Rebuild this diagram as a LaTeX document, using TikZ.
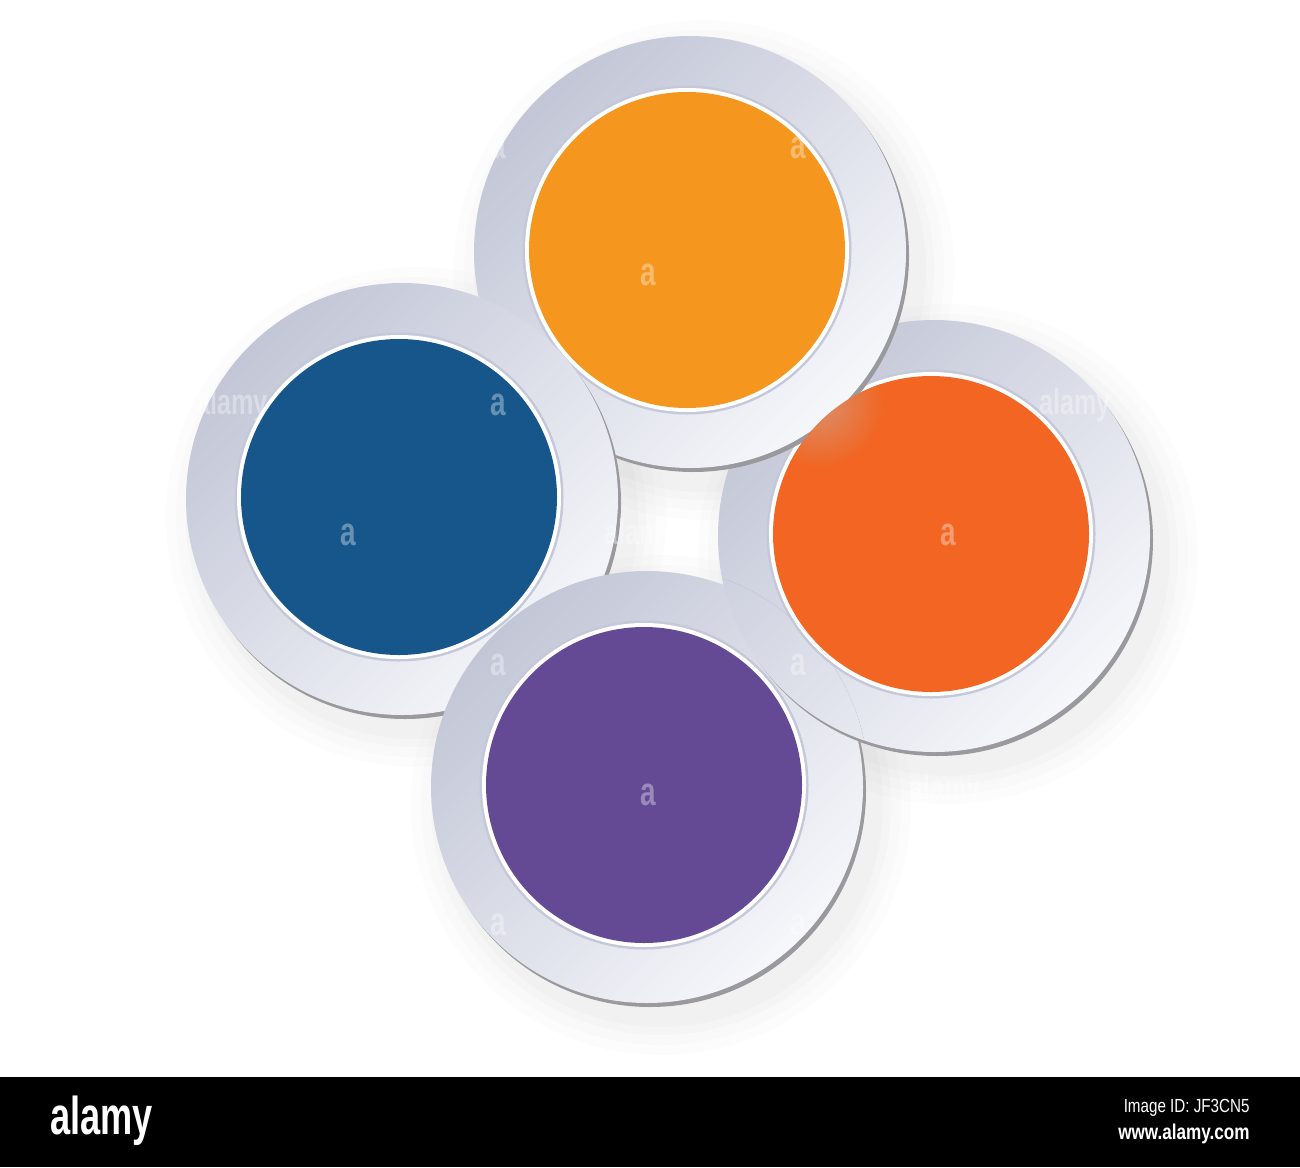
\documentclass[tikz,border=0pt]{standalone}
\usepackage{fontspec}
\setmainfont{Liberation Sans}
\usepackage{graphicx}
\definecolor{cOrange}{HTML}{F5961E}
\definecolor{cBlue}{HTML}{17568B}
\definecolor{cRed}{HTML}{F26522}
\definecolor{cPurple}{HTML}{644A94}
\definecolor{ringDark}{HTML}{C2C6D6}
\definecolor{ringLight}{HTML}{F6F7FB}
\definecolor{edgeGrey}{HTML}{9A9A9E}
\definecolor{innerEdge}{HTML}{C4C8D9}
\definecolor{tint}{HTML}{D9906E}
\tikzset{
  ringshade/.style={top color=ringDark, bottom color=ringLight, shading angle=45},
  wmark/.style={text=white, opacity=0.35, inner sep=0pt, font=\bfseries\fontsize{20}{20}\selectfont},
  wword/.style={text=white, opacity=0.35, inner sep=0pt, font=\bfseries\fontsize{18}{18}\selectfont},
}
\newcommand{\plateshadow}[2]{%
  \foreach \r/\o in {250/0.012,240/0.015,230/0.02,222/0.025}{\fill[black!70,opacity=\o] ({#1+14},{-#2-18}) circle (\r);}%
}
\newcommand{\platebody}[4]{%
  \fill[edgeGrey] ({#2+3},{-#3-4}) circle (216);
  \shade[ringshade] (#2,-#3) circle (216);
  \fill[innerEdge] ({#2-3},{-#3+2}) circle (164.5);
  \fill[white] ({#2-3},{-#3+2}) circle (162);
  \node[circle, fill=#4, minimum size=158pt, inner sep=0pt] (#1) at ({#2-3},{-#3+2}) {};
}
\begin{document}
\begin{tikzpicture}[x=0.5pt,y=0.5pt]
\useasboundingbox (0,0) rectangle (1300,-1167);
\fill[white] (0,0) rectangle (1300,-1167);
% soft shadows on the background
\plateshadow{934}{536}
\plateshadow{690}{252}
\plateshadow{402}{499}
\plateshadow{647}{787}
% right plate (lowest)
\platebody{right}{934}{536}{cRed}
% top plate
\platebody{top}{690}{252}{cOrange}
% left plate
\platebody{left}{402}{499}{cBlue}
% bottom plate
\platebody{bottom}{647}{787}{cPurple}
% right plate over bottom plate
\begin{scope}
  \clip (647,-787) circle (222);
  \platebody{rightB}{934}{536}{cRed}
\end{scope}
% soft shadow of the top plate on the right plate
\begin{scope}
  \clip (931,-534) circle (158);
  \shade[inner color=tint, outer color=cRed] (818,-402) circle (66);
\end{scope}
% faint watermarks
\foreach \px/\py in {498/148,798/148,648/275,498/405,348/535,948/535,498/665,798/665,648/795,498/925,798/925}{
  \node[wmark] (wm-\px-\py) at (\px,-\py) {\scalebox{0.7}[1]{a}};
}
\foreach \px/\py in {232/405,1075/405,640/535,945/790}{
  \node[wword] (ww-\px-\py) at (\px,-\py) {\scalebox{0.7}[1]{alamy}};
}
% bottom bar
\fill[black] (0,-1077) rectangle (1300,-1167);
\node[text=white, inner sep=0pt, anchor=west] (logo) at (50,-1121) {\fontsize{26.6}{30}\selectfont\bfseries\scalebox{0.68}[1]{alamy}};
\node[text=white, inner sep=0pt, anchor=east] (imgid) at (1250,-1108) {\fontsize{9.5}{10}\selectfont\scalebox{0.8}[1]{Image ID: JF3CN5}};
\node[text=white, inner sep=0pt, anchor=east] (url) at (1250,-1134) {\fontsize{10.7}{11}\selectfont\bfseries\scalebox{0.8}[1]{www.alamy.com}};
\end{tikzpicture}
\end{document}
